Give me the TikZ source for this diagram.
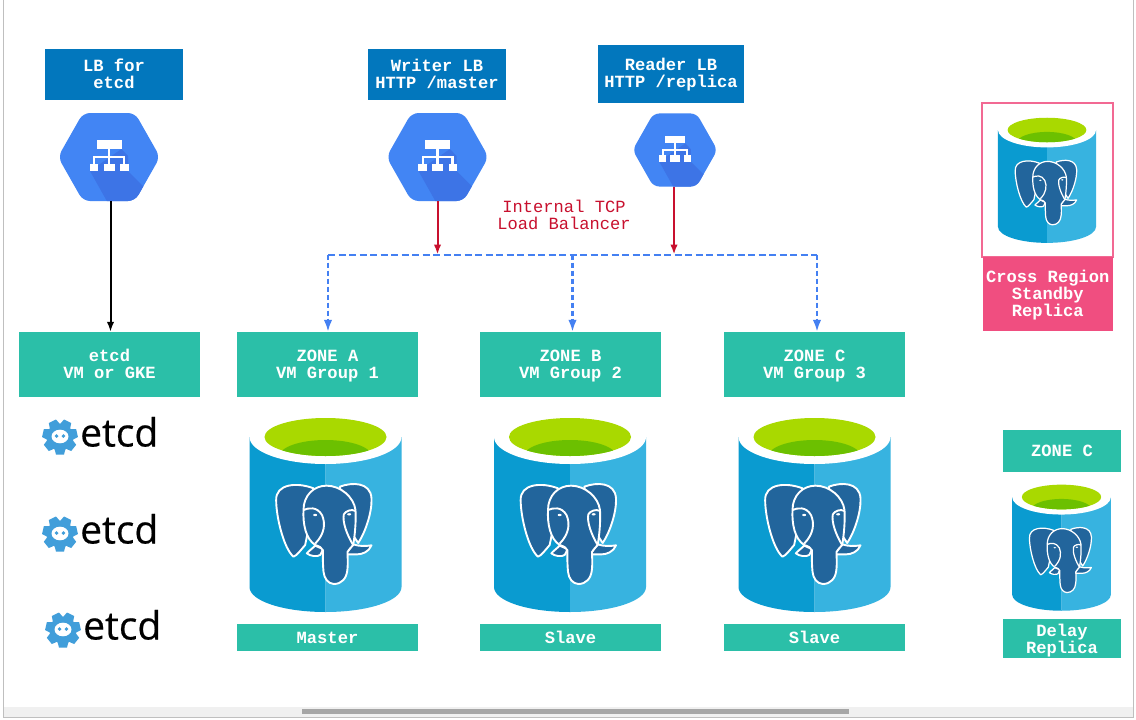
\documentclass[tikz,border=0pt]{standalone}
\usepackage{fontspec}
\setmainfont{Liberation Sans}
\setmonofont{Liberation Mono}
\newfontfamily\logofont[FakeBold=0.5]{Open Sans}
\usetikzlibrary{arrows.meta}
\definecolor{lbblue}{HTML}{0277BD}
\definecolor{teal1}{HTML}{2BBFA8}
\definecolor{pink1}{HTML}{F04E80}
\definecolor{gblue}{HTML}{4285F4}
\definecolor{gblued}{HTML}{3D74E6}
\definecolor{dbdark}{HTML}{0A9BD0}
\definecolor{dblight}{HTML}{37B3E0}
\definecolor{dbgreen}{HTML}{A9D900}
\definecolor{dbgreend}{HTML}{6CC000}
\definecolor{eleph}{HTML}{22659C}
\definecolor{etcdblue}{HTML}{419EDA}
\definecolor{redline}{HTML}{C8102E}
\definecolor{dashblue}{HTML}{4480F2}
\def\elw{1.9pt}
\newcommand{\Hs}{\rule{0pt}{14pt}}
\newcommand{\Ds}{\rule[-2.8pt]{0pt}{2.8pt}}
\tikzset{
  x=1pt,y=-1pt,
  lbl/.style={font=\ttfamily\fontsize{17.1}{17}\selectfont,align=center,inner sep=0,text=white},
  lblb/.style={lbl,font=\ttfamily\bfseries\fontsize{17.1}{17}\selectfont},
  lbbox/.style={lblb,fill=lbblue,draw=none},
  tealbox/.style={lblb,fill=teal1,draw=none},
  pinkbox/.style={lblb,fill=pink1,draw=none},
  redtxt/.style={lbl,text=redline},
  conn/.style={line width=2pt,-{Latex[length=10pt,width=7.5pt]}},
  redconn/.style={conn,draw=redline},
  dashconn/.style={line width=2.2pt,draw=dashblue,dash pattern=on 5pt off 3pt,-{Latex[length=12pt,width=8.5pt,fill=dashblue]}},
  dashbus/.style={line width=2pt,draw=dashblue,dash pattern=on 7pt off 3.5pt},
  eline/.style={draw=white,line width=\elw,line join=round,fill=eleph},
  eonly/.style={draw=white,line width=\elw,line join=round}
}
% box by corners: name, x0, y0, x1, y1, style, text
\newcommand{\bx}[7]{\node[#6,minimum width=#4pt-#2pt,minimum height=#5pt-#3pt] (#1) at ({(#2+#4)/2},{(#3+#5)/2}) {\Hs #7\Ds};}
\newcommand{\lbicon}[4]{% name, cx, cy, scale
  \node[inner sep=0,minimum width=#4*99pt,minimum height=#4*88pt] (#1) at (#2,#3) {};
  \begin{scope}[shift={(#2,#3)},scale=#4]
    \fill[gblue,rounded corners=#4*7pt] (-51,0) -- (-26,-44) -- (26,-44) -- (51,0) -- (26,44) -- (-26,44) -- cycle;
    \begin{scope}
      \clip[rounded corners=#4*7pt] (-51,0) -- (-26,-44) -- (26,-44) -- (51,0) -- (26,44) -- (-26,44) -- cycle;
      \fill[gblued] (12.5,-8) -- (19,-1) -- (19,14) -- (60,55) -- (4,55) -- (-19,14) -- cycle;
    \end{scope}
    \fill[white] (-12.5,-17) rectangle (12.5,-8);
    \fill[white] (-1.2,-8) rectangle (1.2,1.2);
    \fill[white] (-16,-1.2) rectangle (16,1.2);
    \fill[white] (-16,-1.2) rectangle (-13.6,7);
    \fill[white] (-1.2,1.2) rectangle (1.2,7);
    \fill[white] (13.6,-1.2) rectangle (16,7);
    \fill[white] (-19.5,6.5) rectangle (-11,14);
    \fill[white] (-5.5,6.5) rectangle (5.5,14);
    \fill[white] (11,6.5) rectangle (19.5,14);
  \end{scope}
}
\newcommand{\pgdb}[4]{% name, cx, top ellipse y, scale
  \node[inner sep=0,minimum width=#4*152pt,minimum height=#4*200pt] (#1) at (#2,{#3+#4*75}) {};
  \def\elw{#4*1.9pt}
  \begin{scope}[shift={(#2,#3)},scale=#4]
    \fill[dbdark] (-76,0) -- (-76,150) .. controls (-76,164) and (-42,175) .. (0,175) -- (0,0) -- cycle;
    \fill[dblight] (76,0) -- (76,150) .. controls (76,164) and (42,175) .. (0,175) -- (0,0) -- cycle;
    \fill[white] (0,0) ellipse [x radius=76,y radius=27];
    \fill[dbgreen] (0,0) ellipse [x radius=61,y radius=19];
    \begin{scope}
      \clip (0,0) ellipse [x radius=61,y radius=19];
      \fill[dbgreend] (0,19) ellipse [x radius=46,y radius=16];
    \end{scope}
    \begin{scope}[scale=1/3]
      % ears
      \path[eline] (-36,154) .. controls (-85,135) and (-150,140) .. (-148,190) .. controls (-148,240) and (-125,335) .. (-96,359) .. controls (-85,355) and (-75,340) .. (-61,324) -- (-40,220) -- cycle;
      \path[eline] (43,149) .. controls (80,135) and (135,135) .. (138,184) .. controls (140,225) and (120,285) .. (98,318) -- (60,260) -- cycle;
      % tusks
      \path[eline] (-31,326) .. controls (-40,335) and (-50,342) .. (-56,349) .. controls (-45,358) and (-25,360) .. (-16,354) .. controls (-12,348) and (-10,342) .. (-8,336) -- cycle;
      \path[eline] (83,322) .. controls (100,328) and (120,328) .. (138,325) .. controls (130,345) and (110,352) .. (95,352) -- (60,352) -- cycle;
      % head and trunk
      \path[eline] (3,146) .. controls (-35,146) and (-66,175) .. (-66,219) .. controls (-68,260) and (-60,305) .. (-31,324) .. controls (-20,328) and (-12,330) .. (-8,339) .. controls (-8,360) and (-8,385) .. (-6,404) .. controls (-4,425) and (8,440) .. (25,441) .. controls (48,441) and (64,425) .. (66,395) .. controls (68,375) and (66,360) .. (66,345) .. controls (72,335) and (78,330) .. (83,324) .. controls (88,295) and (92,255) .. (90,219) .. controls (85,180) and (45,146) .. (3,146) -- cycle;
      % eye outlines
      \path[eonly] (-66,219) .. controls (-50,212) and (-25,208) .. (-10,235) .. controls (0,260) and (-2,290) .. (-31,320);
      \path[eonly] (90,222) .. controls (78,215) and (60,222) .. (55,232) .. controls (50,255) and (65,295) .. (83,324);
      \fill[white] (-31,234) ellipse [x radius=6,y radius=3.5];
      \fill[white] (71,232) ellipse [x radius=6,y radius=3.5];
    \end{scope}
  \end{scope}
}
\newcommand{\etcdlogo}[3]{% name, gear cx, gear cy
  \begin{scope}[shift={(#2,#3)}]
    \foreach \k in {0,...,6} {
      \fill[etcdblue,rotate=\k*360/7] (-4,17.5) -- (4,17.5) -- (6,10) -- (-6,10) -- cycle;
    }
    \fill[etcdblue] (0,0) circle (13.5);
    \fill[white] (0,-0.5) ellipse [x radius=8.5,y radius=6.8];
    \fill[etcdblue] (-3.4,-1) circle (1.9);
    \fill[etcdblue] (3.4,-1) circle (1.9);
  \end{scope}
  \node[anchor=base west,inner sep=0,font=\logofont\fontsize{39}{39}\selectfont,text=black] (#1) at (#2+20,#3+9.5) {etcd};
}
\begin{document}
\begin{tikzpicture}
\useasboundingbox (0,0) rectangle (1136,720);
\fill[white] (0,0) rectangle (1136,720);
% window frame and scrollbar
\fill[black!6] (3,707) rectangle (1133,717);
\fill[black!35] (302,709) rectangle (849,714);
\draw[black!25,line width=1pt] (3,-3) -- (3,717) -- (1133,717) -- (1133,-3);

% blue label boxes
\bx{lbetcd}{45}{49}{183}{100}{lbbox}{LB for\\etcd}
\bx{lbwriter}{368}{49}{506}{100}{lbbox}{Writer LB\\HTTP /master}
\bx{lbreader}{598}{45}{744}{103}{lbbox}{Reader LB\\HTTP /replica}

% load balancer icons
\lbicon{icetcd}{109}{157}{1}
\lbicon{icwriter}{437.5}{157}{1}
\lbicon{icreader}{675}{150}{0.83}

% red label
\node[redtxt] (tcp) at (564,215) {\Hs Internal TCP\\Load Balancer\Ds};

% teal boxes
\bx{etcdvm}{19}{332}{200}{397}{tealbox}{etcd\\VM or GKE}
\bx{zonea}{237}{332}{418}{397}{tealbox}{ZONE A\\VM Group 1}
\bx{zoneb}{480}{332}{661}{397}{tealbox}{ZONE B\\VM Group 2}
\bx{zonec}{724}{332}{905}{397}{tealbox}{ZONE C\\VM Group 3}
\bx{master}{237}{624}{418}{651}{tealbox}{Master}
\bx{slaveb}{480}{624}{661}{651}{tealbox}{Slave}
\bx{slavec}{724}{624}{905}{651}{tealbox}{Slave}
\bx{zonecr}{1003}{430}{1121}{472}{tealbox}{ZONE C}
\bx{delay}{1003}{619}{1121}{658}{tealbox}{\rule{0pt}{16pt}Delay\\Replica}

% cross-region box
\node[draw=pink1!85!white,line width=1.5pt,minimum width=131pt,minimum height=154pt,inner sep=0] (crossframe) at (1047.5,180) {};
\bx{cross}{982.5}{257}{1113}{331}{pinkbox}{\rule{0pt}{15pt}Cross Region\\Standby\\Replica}

% databases
\pgdb{dba}{325.5}{437}{1}
\pgdb{dbb}{570}{437}{1}
\pgdb{dbc}{814.5}{437}{1}
\pgdb{dbcross}{1047}{130}{0.645}
\pgdb{dbdelay}{1061.5}{497}{0.65}

% etcd logos
\etcdlogo{etcda}{60}{437}
\etcdlogo{etcdb}{60}{534}
\etcdlogo{etcdc}{63}{630}

% connectors
\coordinate (busw) at (328,254.5);
\coordinate (buse) at (817,254.5);
\coordinate (busm) at (572.5,254.5);
\draw[conn] ([xshift=1.5pt]icetcd.south) -- ([xshift=1.5pt]icetcd.south |- etcdvm.north);
\draw[redconn] (icwriter.south) -- (icwriter.south |- busw);
\draw[redconn] ([xshift=-1pt]icreader.south) -- ([xshift=-1pt]icreader.south |- busw);
\draw[dashbus] (busw) -- (buse);
\draw[dashconn] (busw) -- (busw |- zonea.north);
\draw[dashconn] (busm) -- (busm |- zoneb.north);
\draw[dashconn] (buse) -- (buse |- zonec.north);
\end{tikzpicture}
\end{document}
